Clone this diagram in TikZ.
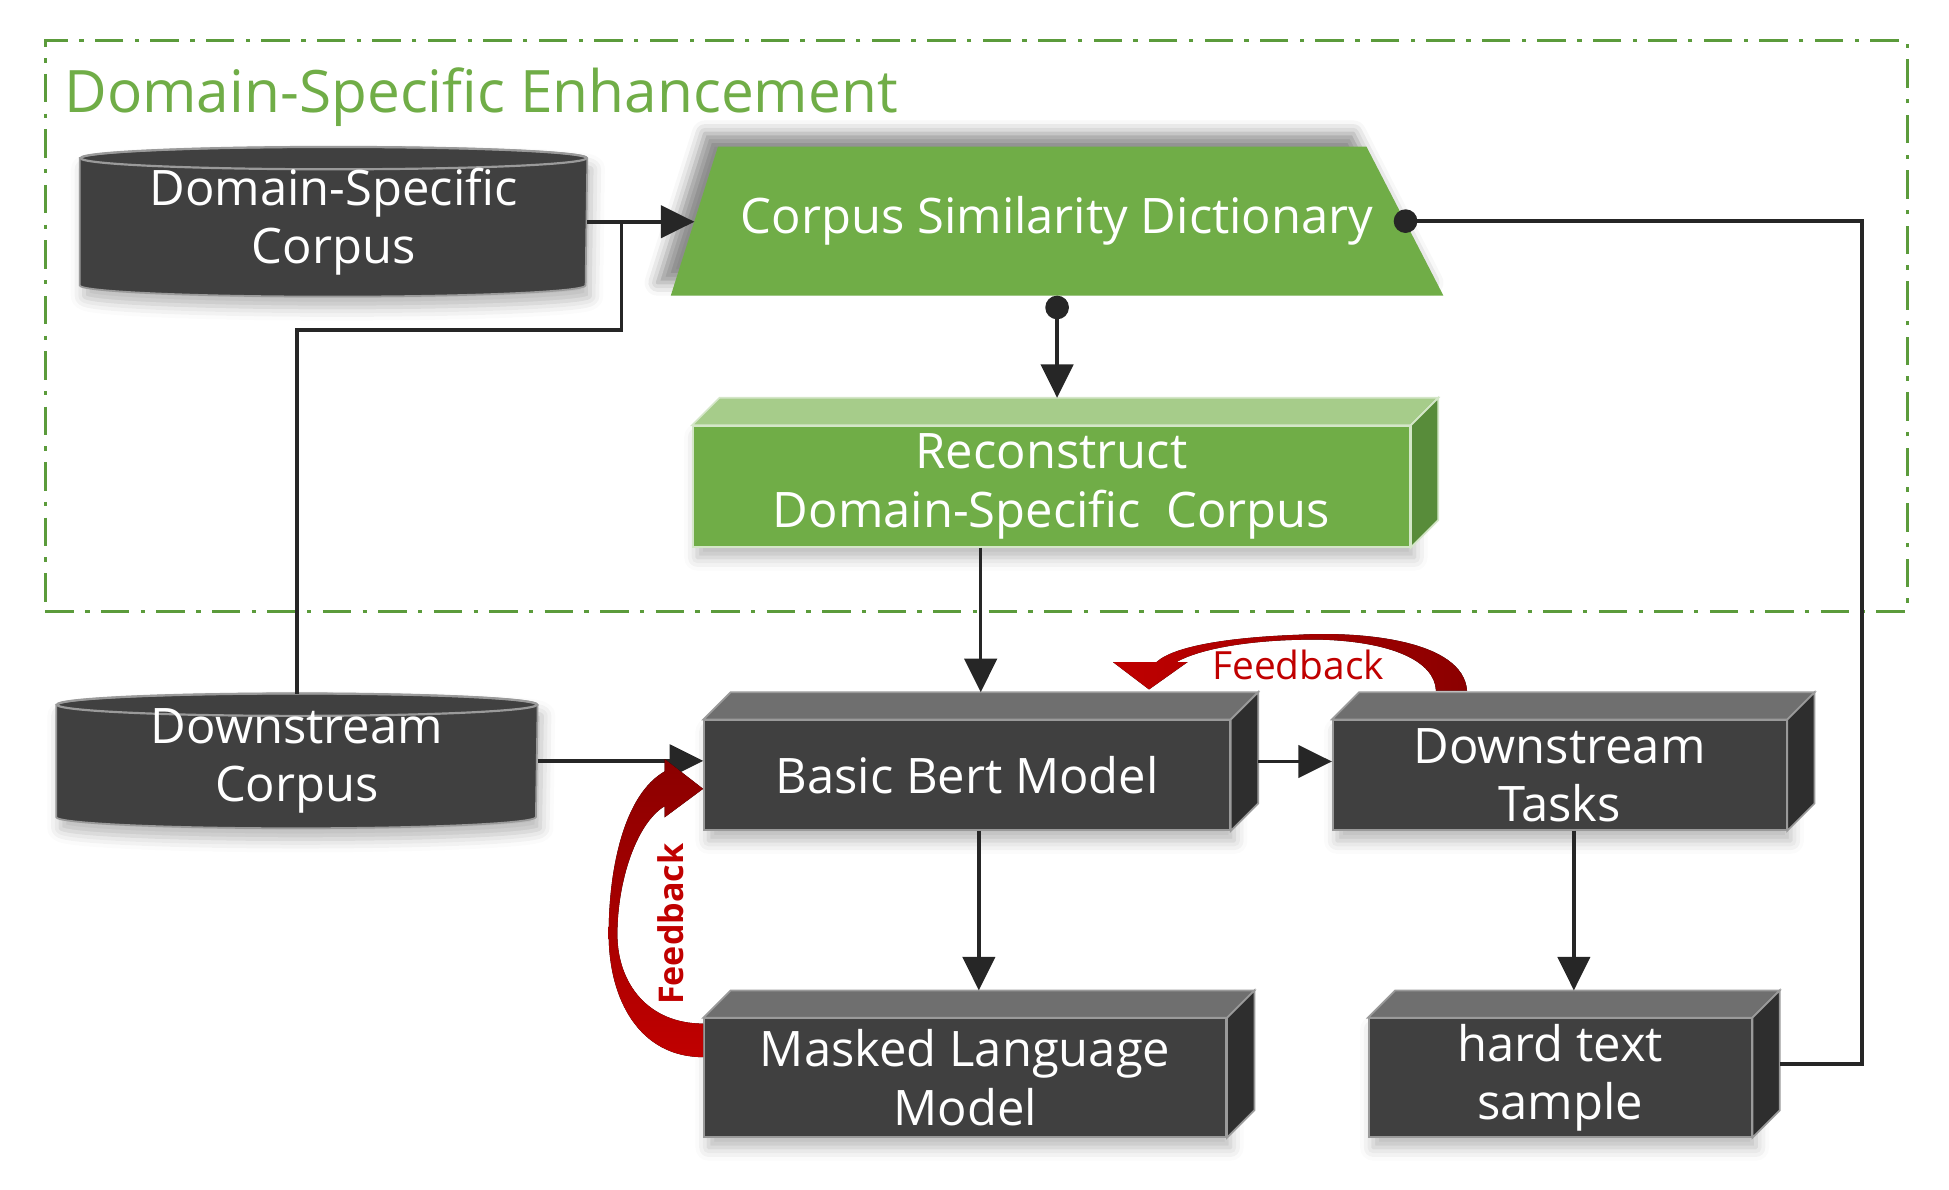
\documentclass[tikz,border=0pt]{standalone}
\usepackage{fontspec}
\setmainfont{Open Sans}
\usetikzlibrary{
  arrows.meta,
  backgrounds,
  calc,
  shadows.blur
}
\definecolor{boxfront}{HTML}{404040}
\definecolor{boxtop}{HTML}{6F6F6F}
\definecolor{boxside}{HTML}{2E2E2E}
\definecolor{boxedge}{HTML}{9A9A9A}
\definecolor{leaf}{HTML}{70AD47}
\definecolor{leaftop}{HTML}{A6CC8A}
\definecolor{leafside}{HTML}{588C3A}
\definecolor{framegreen}{HTML}{5B9B3B}
\definecolor{wirecolor}{HTML}{262626}
\definecolor{fbred}{HTML}{C00000}
\definecolor{fbdark}{HTML}{8B0000}
\tikzset{
  % Soft haze below the blocks.
  glow shadow/.style={
    blur shadow={
      shadow xshift=1pt,
      shadow yshift=-2.5pt,
      shadow blur radius=3pt,
      shadow opacity=28}},
%
  % White text of all blocks and drums.
  boxtext/.style={
    text=white,
    align=center,
    inner sep=0pt,
    font=\fontsize{11.2pt}{13.4pt}\selectfont},
%
  % Front face of a dark 3D block.
  dark front/.style={
    boxtext,
    rectangle,
    fill=boxfront,
    draw=boxedge,
    line width=0.4pt,
    glow shadow},
  % Lit top and shaded side of a dark block.
  darktop/.style={
    fill=boxtop,
    draw=boxedge,
    line width=0.4pt},
  darkside/.style={
    fill=boxside,
    draw=boxedge,
    line width=0.4pt},
%
  % The same three faces for the green block.
  green front/.style={
    dark front,
    fill=leaf,
    draw=white!70!leaf},
  greentop/.style={
    fill=leaftop,
    draw=white!70!leaf,
    line width=0.4pt},
  greenside/.style={
    fill=leafside,
    draw=white!70!leaf,
    line width=0.4pt},
%
  % Text holder of a drum; the drum itself is drawn behind it.
  drum/.style={
    boxtext,
    rectangle},
  drum body/.style={
    fill=boxfront,
    draw=boxedge,
    line width=0.4pt,
    glow shadow},
  drum rim/.style={
    draw=boxedge,
    line width=0.5pt},
%
  % The dictionary trapezium, drawn behind its text.
  hopper/.style={
    fill=leaf,
    blur shadow={
      shadow xshift=-3pt,
      shadow yshift=3pt,
      shadow blur radius=3pt,
      shadow opacity=45}},
%
  % Plain connectors.
  wire/.style={
    draw=wirecolor,
    line width=0.8pt},
  flow/.style={
    wire,
    -{Triangle[length=0.27cm, width=0.26cm]}},
  dot flow/.style={
    wire,
    {Circle[length=0.19cm]}-{Triangle[length=0.27cm, width=0.26cm]}},
%
  % Dash-dotted group box and its caption.
  group/.style={
    draw=framegreen,
    line width=0.75pt,
    dash pattern=on 6.5pt off 2.6pt on 1pt off 2.6pt},
  group title/.style={
    text=leaf,
    inner sep=0pt,
    font=\fontsize{13.4pt}{16pt}\selectfont},
%
  % Red feedback labels.
  feedback text/.style={
    text=fbred,
    inner sep=0pt,
    font=\fontsize{8.9pt}{10pt}\selectfont}
}

\begin{document}
\begin{tikzpicture}[x=0.01cm, y=-0.01cm]
  \useasboundingbox (0,0) rectangle (1569,957.2);

  \node[group, minimum width=14.98cm, minimum height=4.59cm] (domain) at (786,262.5) {};
  \node[group title, anchor=base west] (domain title)
    at ([shift={(16,59)}]domain.north west) {Domain-Specific Enhancement};

  \node[drum, minimum width=4.07cm, minimum height=1.01cm] (dsc) at (268.5,178.5)
    {Domain-Specific\\Corpus};
  \node[drum, minimum width=3.86cm, minimum height=0.89cm] (dcorp) at (239,612.5)
    {Downstream\\Corpus};
  \node[boxtext] (csd) at (851,178) {Corpus Similarity Dictionary};

  \node[green front, minimum width=5.77cm, minimum height=0.97cm] (rdc) at (846.5,391.5)
    {Reconstruct\\Domain-Specific\ \ Corpus};
  \node[dark front, minimum width=4.23cm, minimum height=0.88cm] (bert) at (778.5,624)
    {Basic Bert Model};
  \node[dark front, minimum width=3.65cm, minimum height=0.88cm] (tasks) at (1255.5,624)
    {Downstream\\Tasks};
  \node[dark front, minimum width=4.2cm, minimum height=0.95cm] (mlm) at (777,867.5)
    {Masked Language\\Model};
  \node[dark front, minimum width=3.08cm, minimum height=0.95cm] (hard) at (1256,867.5)
    {hard text\\sample};

  % ends of the trapezium sides, for the connectors
  \coordinate (csd-in) at ([shift={(-292,0)}]csd.center);
  \coordinate (csd-out) at ([shift={(280,0)}]csd.center);
  \coordinate (csd-base) at ([shift={(0,60)}]csd.center);

  % drums and trapezium sit behind their text
  \begin{pgfonlayer}{background}
    \foreach \d/\r in {dsc/2.035cm, dcorp/1.93cm}
      {\path[drum body] (\d.north west) -- (\d.south west)
         arc[start angle=180, end angle=360, x radius=\r, y radius=0.09cm]
         -- (\d.north east)
         arc[start angle=0, end angle=180, x radius=\r, y radius=0.09cm]
         -- cycle;
       \path[drum rim] (\d.north) ellipse[x radius=\r, y radius=0.09cm];}
    \path[hopper] ([shift={(-311,60)}]csd.center) -- ([shift={(-273,-60)}]csd.center)
      -- ([shift={(249,-60)}]csd.center) -- ([shift={(311,60)}]csd.center) -- cycle;
  \end{pgfonlayer}

  % top and side faces of the blocks
  \foreach \b/\s in {rdc/green, bert/dark, tasks/dark, mlm/dark, hard/dark}
    {\path[\s top] (\b.north west) -- ++(22,-22)
       -- ([shift={(22,-22)}]\b.north east) -- (\b.north east) -- cycle;
     \path[\s side] (\b.north east) -- ++(22,-22)
       -- ([shift={(22,-22)}]\b.south east) -- (\b.south east) -- cycle;
     \coordinate (\b-top) at ([shift={(11,-22)}]\b.north);
     \coordinate (\b-side) at ([shift={(22,-11)}]\b.east);
    }

  \coordinate (join) at ($(dsc.east)!0.32!(dsc.east -| csd-in)$);
  \draw[flow] (dsc.east) -- (dsc.east -| csd-in);
  \draw[wire] ([yshift=0.09cm]dcorp.north) |- ($(join)+(0,87)$) -- (join);
  \draw[flow] (dcorp.east) -- (dcorp.east -| bert.west);
  \draw[dot flow] (csd-base) -- (csd-base |- rdc-top);
  \draw[flow] (bert-top |- rdc.south) -- (bert-top);
  \draw[flow] (bert-side) -- (bert-side -| tasks.west);
  \draw[flow] (mlm-top |- bert.south) -- (mlm-top);
  \draw[flow] (hard-top |- tasks.south) -- (hard-top);
  \draw[wire, -{Circle[length=0.19cm]}, shorten >=-0.09cm]
    (hard-side) -- ++(66,0) |- (csd-out);

  % feedback from the tasks back to the model
  \fill[left color=fbred, right color=fbdark]
    (1181,556) .. controls (1178,515) and (1095,508) .. (1045,511)
    .. controls (990,513) and (945,520) .. (931,533)
    -- (896,533) -- (925,555) -- (956,533) -- (947,533)
    .. controls (968,521) and (1015,514) .. (1066,515)
    .. controls (1120,517) and (1155,532) .. (1156,556) -- cycle;
  \node[feedback text] (fb tasks) at (1045,535) {Feedback};

  % feedback from the masked language model
  \fill[top color=fbdark, bottom color=fbred]
    (566,851) .. controls (515,851) and (490,805) .. (490,752)
    .. controls (490,700) and (502,640) .. (535,621)
    -- (535,611) -- (566,635) -- (535,658) -- (535,649)
    .. controls (512,663) and (497,710) .. (497,752)
    .. controls (497,792) and (522,824) .. (566,824) -- cycle;
  \node[feedback text, rotate=90, font=\fontsize{7.8pt}{9pt}\bfseries] (fb mlm)
    at (540,744) {Feedback};
\end{tikzpicture}
\end{document}
